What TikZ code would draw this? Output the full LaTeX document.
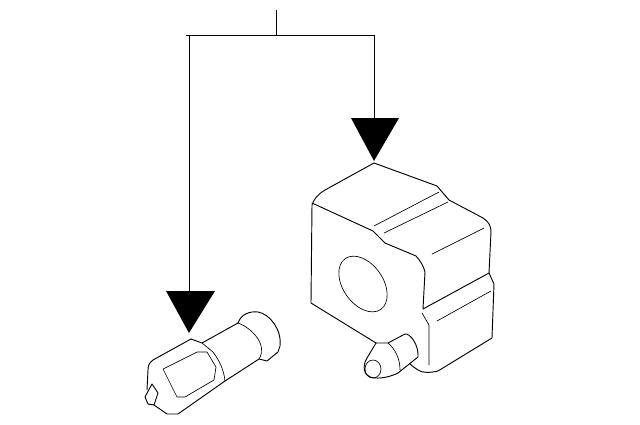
\documentclass[tikz,border=0pt]{standalone}
\usepackage{amsmath}
\usepackage{tikz}

\tikzset{
	part/.style={line width=0.7pt, line join=round, line cap=round},
	fineline/.style={line width=0.5pt, line cap=round},
	leader/.style={line width=0.7pt},
	pointer/.style={fill=black, draw=none}
}

\begin{document}
\begin{tikzpicture}[x=0.75pt, y=-0.75pt]
		\useasboundingbox (0, 0) rectangle (640, 425);
		% leaders
		\coordinate (top) at (276, 10);
		\coordinate (junction) at (276, 35);
		\coordinate (barleft) at (186, 35);
		\coordinate (barright) at (374, 35);
		\coordinate (lampdrop) at (189, 35);
		\coordinate (lamphead) at (189, 291);
		\coordinate (housinghead) at (374, 118);
		\draw[leader] (top) to (junction);
		\draw[leader] (barleft) to (barright) to (housinghead);
		\draw[leader] (lampdrop) to (lamphead);
		\fill[pointer] (351, 118) to (399, 118) to (374, 161) to cycle;
		\fill[pointer] (166, 291) to (215, 291) to (189, 333) to cycle;

		% housing
		\draw[part] (374, 163) to (325, 190) .. controls (317, 195) and (314, 199) .. (312, 205)
		to (311, 303) to (376, 343);
		\draw[part] (374, 163) to (437, 186) to (449, 200) to (483, 218)
		.. controls (489, 222) and (491, 226) .. (491, 232)
		to (489, 273) to (494, 284) to (492, 338) to (438, 371)
		.. controls (430, 373) and (422, 373) .. (418, 370)
		.. controls (415, 368) and (412, 366) .. (410, 364);
		\draw[part] (312, 203) to (373, 231) to (385, 243) to (416, 256)
		.. controls (420, 260) and (424, 267) .. (425, 272)
		to (423, 309) to (489, 273);
		\draw[fineline] (374, 226) to (439, 192);
		\draw[fineline] (384, 233) to (448, 202);
		\draw[fineline] (432, 254) to (484, 228);
		\draw[fineline] (437, 321) to (491, 291);
		\draw[fineline] (422, 313) to (429, 325) to (429, 365);
		\draw[fineline] (363, 284) [rotate around={35:(363, 284)}] ellipse (20 and 31);

		% nozzle
		\draw[part] (376, 343) to (388, 343) to (405, 334)
		.. controls (410, 333) and (419, 345) .. (418, 357)
		to (398, 373);
		\draw[part] (376, 343) to (367, 358) .. controls (362, 366) and (364, 375) .. (370, 377)
		.. controls (380, 380) and (392, 376) .. (398, 373);
		\draw[fineline] (388, 343) .. controls (395, 349) and (400, 358) .. (400, 370);
		\draw[fineline] (373, 369) ellipse (8 and 9);

		% lamp
		\draw[part] (191, 339) to (202, 343) to (238, 323)
		.. controls (241, 314) and (250, 311) .. (258, 312)
		.. controls (270, 314) and (282, 330) .. (280, 346)
		to (278, 352) to (267, 361) to (259, 359) to (225, 381);
		\draw[part] (191, 339) to (153, 360) .. controls (149, 363) and (148, 366) .. (148, 370) to (147, 390);
		\draw[fineline] (202, 343) to (213, 352) .. controls (219, 360) and (224, 370) .. (225, 381);
		\draw[fineline] (238, 323) .. controls (252, 328) and (268, 345) .. (259, 359);
		\draw[fineline] (163, 369) to (197, 352) to (207, 352) to (216, 367) to (214, 380) to (185, 397) to (177, 397) to cycle;
		\draw[part] (225, 381) to (178, 414) to (167, 414) to (154, 405);
		\draw[part] (152, 384) to (158, 393) to (154, 405) to (148, 404) to (145, 397) to cycle;
	\end{tikzpicture}
\end{document}
